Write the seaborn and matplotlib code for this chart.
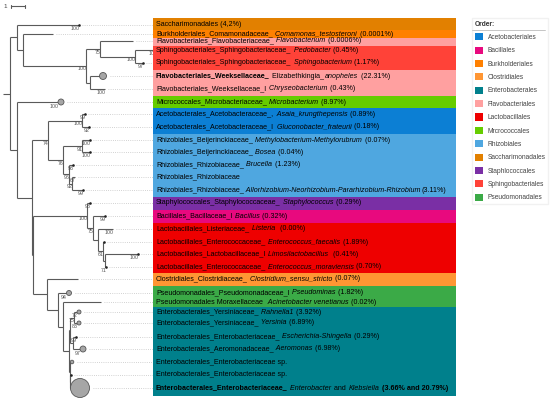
import matplotlib
matplotlib.use("Agg")
import matplotlib.pyplot as plt
from matplotlib.patches import Patch
import pandas as pd
import seaborn as sns

# ---- data ----------------------------------------------------------------
orders = (["Saccharimonadales", "Burkholderiales", "Flavobacteriales",
           "Sphingobacteriales", "Sphingobacteriales", "Flavobacteriales",
           "Flavobacteriales", "Micrococcales", "Acetobacterales", "Acetobacterales"]
          + ["Rhizobiales"] * 5 + ["Staphylococcales", "Bacillales"]
          + ["Lactobacillales"] * 4 + ["Clostridiales"] + ["Pseudomonadales"] * 2
          + ["Enterobacterales"] * 7)

# label pieces: (text, style)  n = normal, i = italic, b = bold
labels = [
    [("Saccharimonadales (4,2%)", "n")],
    [("Burkholderiales_Comamonadaceae_", "n"), (" Comamonas_testosteroni", "i"), (" (0.0001%)", "n")],
    [("Flavobacteriales_Flavobacteriaceae_", "n"), (" Flavobacterium", "i"), (" (0.0006%)", "n")],
    [("Sphingobacteriales_Sphingobacteriaceae_", "n"), (" Pedobacter", "i"), (" (0.45%)", "n")],
    [("Sphingobacteriales_Sphingobacteriaceae_", "n"), (" Sphingobacterium", "i"), (" (1.17%)", "n")],
    [("Flavobacteriales_Weeksellaceae_", "b"), (" Elizabethkingia_", "n"), ("anopheles", "i"), (" (22.31%)", "n")],
    [("Flavobacteriales_Weeksellaceae_I", "n"), (" Chryseobacterium", "i"), (" (0.43%)", "n")],
    [("Micrococcales_Microbacteriaceae_", "n"), (" Microbacterium", "i"), (" (8.97%)", "n")],
    [("Acetobacterales_Acetobacteraceae_,", "n"), (" Asaia_krungthepensis", "i"), (" (0.89%)", "n")],
    [("Acetobacterales_Acetobacteraceae_I", "n"), (" Gluconobacter_frateurii", "i"), (" (0.18%)", "n")],
    [("Rhizobiales_Beijerinckiaceae_", "n"), (" Methylobacterium-Methylorubrum", "i"), (" (0.07%)", "n")],
    [("Rhizobiales_Beijerinckiaceae_", "n"), (" Bosea", "i"), (" (0.04%)", "n")],
    [("Rhizobiales_Rhizobiaceae_", "n"), (" Brucella", "i"), (" (1.23%)", "n")],
    [("Rhizobiales_Rhizobiaceae", "n")],
    [("Rhizobiales_Rhizobiaceae_", "n"), (" Allorhizobium-Neorhizobium-Pararhizobium-Rhizobium", "i"), ("(3.11%)", "n")],
    [("Staphylococcales_Staphylococcaceae_", "n"), (" Staphylococcus", "i"), (" (0.29%)", "n")],
    [("Bacillales_Bacillaceae_I", "n"), (" Bacillus", "i"), (" (0.32%)", "n")],
    [("Lactobacillales_Listeriaceae_", "n"), (" Listeria", "i"), ("  (0.00%)", "n")],
    [("Lactobacillales_Enterococcaceae_", "n"), (" Enterococcus_faecalis", "i"), (" (1.89%)", "n")],
    [("Lactobacillales_Lactobacillaceae_I", "n"), (" Limosilactobacillus", "i"), ("  (0.41%)", "n")],
    [("Lactobacillales_Enterococcaceae_", "n"), (" Enterococcus_moraviensis", "i"), (" (0.70%)", "n")],
    [("Clostridiales_Clostridiaceae_", "n"), (" Clostridium_sensu_stricto", "i"), (" (0.07%)", "n")],
    [("Pseudomonadales_Pseudomonadaceae_I", "n"), (" Pseudominas", "i"), (" (1.82%)", "n")],
    [("Pseudomonadales Moraxellaceae", "n"), ("  Acinetobacter venetianus", "i"), (" (0.02%)", "n")],
    [("Enterobacterales_Yersiniaceae_", "n"), (" Rahnella1", "i"), (" (3.92%)", "n")],
    [("Enterobacterales_Yersiniaceae_", "n"), (" Yersinia", "i"), (" (6.89%)", "n")],
    [("Enterobacterales_Enterobacteriaceae_", "n"), (" Escherichia-Shingella", "i"), (" (0.29%)", "n")],
    [("Enterobacterales_Aeromonadaceae_", "n"), (" Aeromonas", "i"), (" (6.98%)", "n")],
    [("Enterobacterales_Enterobacteriaceae sp.", "n")],
    [("Enterobacterales_Enterobacteriaceae sp.", "n")],
    [("Enterobacterales_Enterobacteriaceae_", "b"), (" Enterobacter", "i"), (" and ", "n"),
     ("Klebsiella", "i"), (" (3.66% and 20.79%)", "b")],
]

row_y = [25, 34, 41, 50, 63, 76, 89, 102, 114, 127, 140, 152, 165, 177, 190, 203,
         216, 229, 242, 254, 267, 279, 293, 302, 312, 323, 337, 349, 362, 375, 388]
tip_x = [79, 53, 133, 157, 143, 103, 105, 61, 85, 89, 90, 90, 73, 75, 83, 90,
         105, 113, 104, 138, 106, 78, 69, 101, 79, 79, 76, 83, 72, 71, 80]
tip_mark = ["dot", "", "", "", "dot", "circle", "", "circle", "dot", "dot", "dot", "dot",
            "dot", "", "dot", "dot", "dot", "", "dot", "dot", "dot", "", "circle", "",
            "circle", "circle", "dot", "circle", "circle", "dot", "circle"]
tip_radius = [0, 0, 0, 0, 0, 3.5, 0, 3, 0, 0, 0, 0, 0, 0, 0, 0,
              0, 0, 0, 0, 0, 0, 2.5, 0, 2, 2, 0, 3, 1.8, 0, 9.5]
tip_boot = [100, None, None, 100, 97, None, 100, 100, 99, 92, 100, 100, 93, 67, 99, 98,
            99, 100, None, 100, 71, None, 94, None, 72, 83, 99, 97, None, None, None]

# tree: tip = row index, internal node = (depth, bootstrap, children)
tree = (10, None, [
    (17, None, [0, (23, None, [1, (86, 100, [(100, 75, [2, (135, 100, [3, 4])]),
                                             (90, None, [5, 6])])])]),
    (17, None, [7, (32, None, [
        (48, 74, [(82, 100, [8, 9]),
                  (63, 76, [(82, 91, [10, 11]), (69, 96, [12, (72, 92, [13, 14])])])]),
        (33, None, [
            (87, 100, [15, (93, 75, [16, (98, None, [17, (103, 61, [18, (105, None, [19, 20])])])])]),
            (47, None, [21, (58, None, [22, (63, None, [23, (69, None, [
                (70, None, [(74, 75, [24, 25]), (73, None, [26, 27])]),
                (70, None, [28, (70, None, [29, 30])])])])])])]),
    ])]),
])

legend_orders = ["Acetobacteriales", "Bacillales", "Burkholderiales", "Clostridiales",
                 "Enterobacterales", "Flavobacteriales", "Lactobacillales", "Mrcrococcales",
                 "Rhizobiales", "Saccharimonadales", "Staphlococcales", "Sphingobacteriales",
                 "Pseudomonadales"]
legend_colors = ["#0C7FD4", "#E8097E", "#FF8000", "#FF9633", "#00808C", "#FFA0A0", "#EE0000",
                 "#66CC00", "#4FA7E0", "#E28000", "#7A2FA5", "#FF4238", "#3BAA47"]
order_colors = dict(zip(["Acetobacterales", "Bacillales", "Burkholderiales", "Clostridiales",
                         "Enterobacterales", "Flavobacteriales", "Lactobacillales", "Micrococcales",
                         "Rhizobiales", "Saccharimonadales", "Staphylococcales",
                         "Sphingobacteriales", "Pseudomonadales"], legend_colors))

# ---- figure ----------------------------------------------------------------
sns.set_style("white")
plt.rcParams['font.family'] = ['Liberation Sans', 'DejaVu Sans']

fig = plt.figure(figsize=(5.5, 4.03), dpi=100)
ax = fig.add_axes([0, 0, 1, 1])
ax.set_xlim(0, 550)
ax.set_ylim(403, 0)
ax.axis('off')

line_col = '#5a5a5a'
band_left, band_right = 153, 456

# tree
segs, boots = [], []
def walk(node):
    if isinstance(node, int):
        return row_y[node], tip_x[node]
    x, boot, kids = node
    ys = []
    for k in kids:
        ky, kx = walk(k)
        segs.append(([x, kx], [ky, ky]))
        ys.append(ky)
    segs.append(([x, x], [min(ys), max(ys)]))
    y = (min(ys) + max(ys)) / 2
    if boot:
        boots.append((x, y, boot))
    return y, x

root_y, root_x = walk(tree)
segs.append(([3, root_x], [root_y, root_y]))
for xs, ys in segs:
    ax.plot(xs, ys, color=line_col, lw=0.8, solid_capstyle='butt', zorder=2)

# dotted guides to the bands
for i, y in enumerate(row_y):
    start = tip_x[i] + tip_radius[i] + 3
    ax.plot([start, band_left], [y, y], color='#c4c4c4', lw=0.6,
            ls=(0, (1, 1.6)), zorder=1)

# bootstrap values
for x, y, b in boots:
    ax.text(x + 0.5, y + 0.8, str(b), fontsize=3.8, color='#555555', ha='right', va='top', zorder=3)
for i, b in enumerate(tip_boot):
    if b is not None:
        ax.text(tip_x[i] + 0.5 - tip_radius[i], row_y[i] + 0.8 + tip_radius[i] * 0.3, str(b),
                fontsize=3.8, color='#555555', ha='right', va='top', zorder=3)

# tip marks
tips = pd.DataFrame({'x': tip_x, 'y': row_y, 'mark': tip_mark, 'r': tip_radius})
dots = tips[tips.mark == 'dot']
sns.scatterplot(data=dots, x='x', y='y', ax=ax, s=3.5, color='#222222', linewidth=0,
                marker='o', legend=False, zorder=4)
circ = tips[tips.mark == 'circle'].copy()
circ['area'] = (2 * circ['r'] * 0.72) ** 2
sns.scatterplot(data=circ, x='x', y='y', ax=ax, size='area',
                sizes={a: a for a in circ['area'].unique()}, color='#a6a6a6',
                edgecolor='#555555', linewidth=0.6, legend=False, zorder=4)

# colored bands
bounds = [18] + [(a + b) / 2 for a, b in zip(row_y[:-1], row_y[1:])] + [396]
heights = [b - a for a, b in zip(bounds[:-1], bounds[1:])]
centers = [(a + b) / 2 for a, b in zip(bounds[:-1], bounds[1:])]
ax.barh(centers, band_right - band_left, left=band_left, height=heights,
        color=[order_colors[o] for o in orders], linewidth=0, zorder=5)

# row labels, piece by piece
fig.canvas.draw()
renderer = fig.canvas.get_renderer()
fs = 5.1
for y, pieces in zip(row_y, labels):
    x = 156
    for text, style in pieces:
        t = ax.text(x, y, text, fontsize=fs, va='center', ha='left', color='black',
                    fontstyle='italic' if style == 'i' else 'normal',
                    fontweight='bold' if style == 'b' else 'normal', zorder=6)
        x += t.get_window_extent(renderer).width + 0.6

# scale bar
ax.text(3, 6, "1", fontsize=4.5, color='#444444', va='center', ha='left')
ax.plot([11, 25], [6, 6], color=line_col, lw=0.8)
ax.plot([11, 11], [4.5, 7.5], color=line_col, lw=0.8)
ax.plot([25, 25], [4.5, 7.5], color=line_col, lw=0.8)

# legend
handles = [Patch(facecolor=c, edgecolor='none', label=l) for l, c in zip(legend_orders, legend_colors)]
leg = ax.legend(handles=handles, title="Order:", loc='upper left',
                bbox_to_anchor=(472 / 550, 1 - 18 / 403), borderaxespad=0,
                fontsize=4.8, title_fontsize=4.8, alignment='left', frameon=True,
                fancybox=False, edgecolor='#eeeeee', handlelength=1.25, handleheight=1.25,
                handletextpad=0.7, labelspacing=0.84, borderpad=0.4)
leg.get_title().set_fontweight('bold')
leg.get_title().set_color('#333333')
for txt in leg.get_texts():
    txt.set_color('#444444')
ax.plot([472, 545], [30, 30], color='#bbbbbb', lw=0.6, zorder=10)

fig.savefig("out.png", dpi=100)
